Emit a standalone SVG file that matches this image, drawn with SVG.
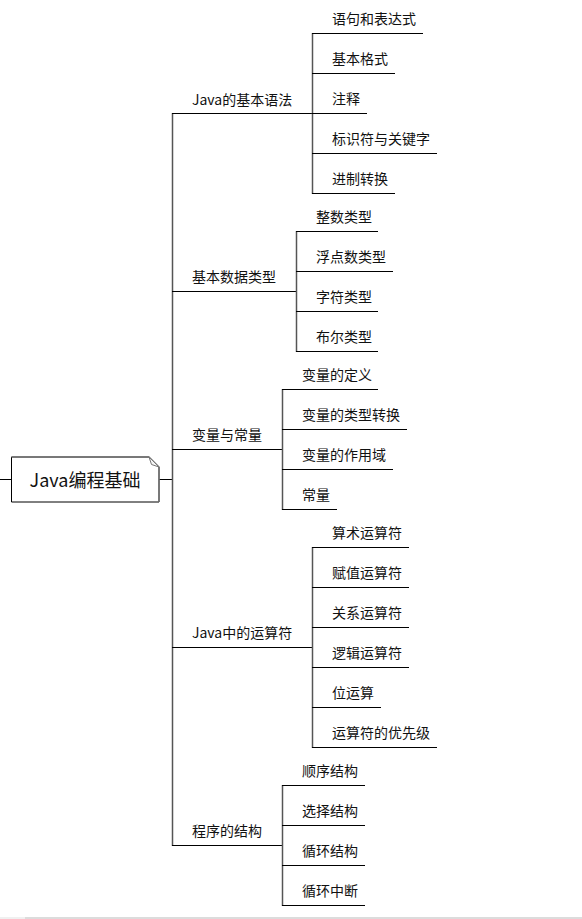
<svg xmlns="http://www.w3.org/2000/svg" width="582" height="919" viewBox="0 0 582 919">
<style>
.h{stroke:#000;stroke-width:1;fill:none}
.v{stroke:#555;stroke-width:1.5;fill:none}
text{font-family:"Microsoft YaHei","Noto Sans CJK SC","Noto Sans",sans-serif;font-size:14px;fill:#111;dominant-baseline:central}
.root{font-size:18px}
</style>
<rect width="582" height="919" fill="#fff"/>
<rect x="0" y="917" width="25" height="2" fill="#f0f0f0"/>
<rect x="25" y="917" width="557" height="2" fill="#dcdcdc"/>
<g id="connectors">
<line class="h" x1="0" y1="479.5" x2="11.5" y2="479.5"/>
<line class="h" x1="159" y1="479.5" x2="172" y2="479.5"/>
<line class="v" x1="172.5" y1="113" x2="172.5" y2="846"/>
<line class="h" x1="172" y1="113.5" x2="312" y2="113.5"/>
<line class="v" x1="312.5" y1="33" x2="312.5" y2="194"/>
<line class="h" x1="312" y1="33.5" x2="423" y2="33.5"/>
<line class="h" x1="312" y1="73.5" x2="395" y2="73.5"/>
<line class="h" x1="312" y1="113.5" x2="367" y2="113.5"/>
<line class="h" x1="312" y1="153.5" x2="437" y2="153.5"/>
<line class="h" x1="312" y1="193.5" x2="395" y2="193.5"/>
<line class="h" x1="172" y1="291.5" x2="296" y2="291.5"/>
<line class="v" x1="296.5" y1="231" x2="296.5" y2="352"/>
<line class="h" x1="296" y1="231.5" x2="378" y2="231.5"/>
<line class="h" x1="296" y1="271.5" x2="393" y2="271.5"/>
<line class="h" x1="296" y1="311.5" x2="378" y2="311.5"/>
<line class="h" x1="296" y1="351.5" x2="378" y2="351.5"/>
<line class="h" x1="172" y1="449.5" x2="282" y2="449.5"/>
<line class="v" x1="282.5" y1="389" x2="282.5" y2="510"/>
<line class="h" x1="282" y1="389.5" x2="378" y2="389.5"/>
<line class="h" x1="282" y1="429.5" x2="407" y2="429.5"/>
<line class="h" x1="282" y1="469.5" x2="393" y2="469.5"/>
<line class="h" x1="282" y1="509.5" x2="337" y2="509.5"/>
<line class="h" x1="172" y1="647.5" x2="312" y2="647.5"/>
<line class="v" x1="312.5" y1="547" x2="312.5" y2="748"/>
<line class="h" x1="312" y1="547.5" x2="409" y2="547.5"/>
<line class="h" x1="312" y1="587.5" x2="409" y2="587.5"/>
<line class="h" x1="312" y1="627.5" x2="409" y2="627.5"/>
<line class="h" x1="312" y1="667.5" x2="409" y2="667.5"/>
<line class="h" x1="312" y1="707.5" x2="381" y2="707.5"/>
<line class="h" x1="312" y1="747.5" x2="437" y2="747.5"/>
<line class="h" x1="172" y1="845.5" x2="282" y2="845.5"/>
<line class="v" x1="282.5" y1="785" x2="282.5" y2="906"/>
<line class="h" x1="282" y1="785.5" x2="365" y2="785.5"/>
<line class="h" x1="282" y1="825.5" x2="365" y2="825.5"/>
<line class="h" x1="282" y1="865.5" x2="365" y2="865.5"/>
<line class="h" x1="282" y1="905.5" x2="365" y2="905.5"/>
</g>
<g id="root">
<path d="M11.5,457 L149,457 L159,467 L159,502 L11.5,502 Z" fill="#fff" stroke="#000" stroke-width="1"/>
<path d="M11.5,457 L149,457 L159,467 L159,502" fill="none" stroke="#777" stroke-width="1.5"/>
<path d="M149,457 L151.5,464.5 L159,467 Z" fill="#f4f4f4" stroke="#777" stroke-width="1"/>
<text class="root" x="85" y="479" text-anchor="middle">Java编程基础</text>
</g>
<g id="b1"><text x="192" y="99">Java的基本语法</text></g>
<g id="b1c1"><text x="332" y="18">语句和表达式</text></g>
<g id="b1c2"><text x="332" y="58">基本格式</text></g>
<g id="b1c3"><text x="332" y="98">注释</text></g>
<g id="b1c4"><text x="332" y="138">标识符与关键字</text></g>
<g id="b1c5"><text x="332" y="178">进制转换</text></g>
<g id="b2"><text x="192" y="276">基本数据类型</text></g>
<g id="b2c1"><text x="316" y="216">整数类型</text></g>
<g id="b2c2"><text x="316" y="256">浮点数类型</text></g>
<g id="b2c3"><text x="316" y="296">字符类型</text></g>
<g id="b2c4"><text x="316" y="336">布尔类型</text></g>
<g id="b3"><text x="192" y="434">变量与常量</text></g>
<g id="b3c1"><text x="302" y="374">变量的定义</text></g>
<g id="b3c2"><text x="302" y="414">变量的类型转换</text></g>
<g id="b3c3"><text x="302" y="454">变量的作用域</text></g>
<g id="b3c4"><text x="302" y="494">常量</text></g>
<g id="b4"><text x="192" y="632">Java中的运算符</text></g>
<g id="b4c1"><text x="332" y="532">算术运算符</text></g>
<g id="b4c2"><text x="332" y="572">赋值运算符</text></g>
<g id="b4c3"><text x="332" y="612">关系运算符</text></g>
<g id="b4c4"><text x="332" y="652">逻辑运算符</text></g>
<g id="b4c5"><text x="332" y="692">位运算</text></g>
<g id="b4c6"><text x="332" y="732">运算符的优先级</text></g>
<g id="b5"><text x="192" y="830">程序的结构</text></g>
<g id="b5c1"><text x="302" y="770">顺序结构</text></g>
<g id="b5c2"><text x="302" y="810">选择结构</text></g>
<g id="b5c3"><text x="302" y="850">循环结构</text></g>
<g id="b5c4"><text x="302" y="890">循环中断</text></g>
</svg>
